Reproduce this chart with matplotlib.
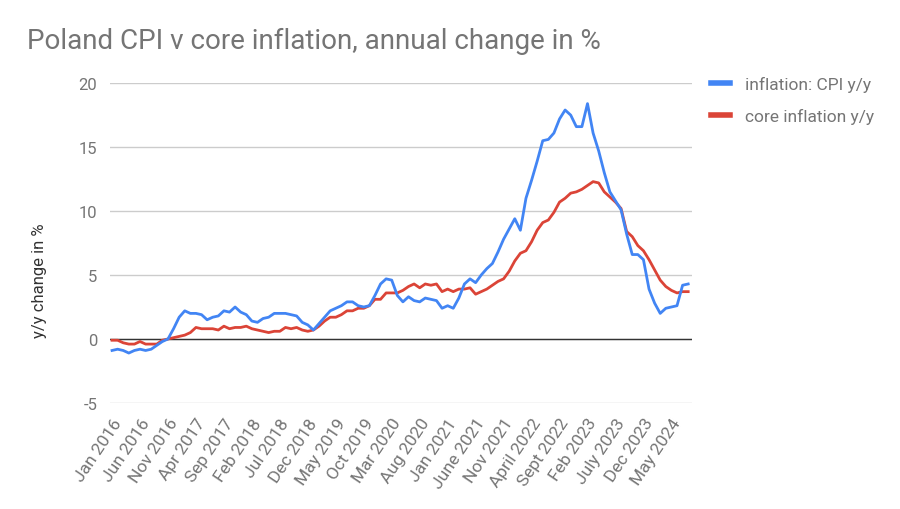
import matplotlib
matplotlib.use("Agg")
import matplotlib.pyplot as plt

plt.rcParams["font.family"] = ["Roboto", "DejaVu Sans"]

# monthly, Jan 2016 .. Aug 2024
cpi = [
    -0.9, -0.8, -0.9, -1.1, -0.9, -0.8, -0.9, -0.8, -0.5, -0.2, 0.0, 0.8,
    1.7, 2.2, 2.0, 2.0, 1.9, 1.5, 1.7, 1.8, 2.2, 2.1, 2.5, 2.1,
    1.9, 1.4, 1.3, 1.6, 1.7, 2.0, 2.0, 2.0, 1.9, 1.8, 1.3, 1.1,
    0.7, 1.2, 1.7, 2.2, 2.4, 2.6, 2.9, 2.9, 2.6, 2.5, 2.6, 3.4,
    4.3, 4.7, 4.6, 3.4, 2.9, 3.3, 3.0, 2.9, 3.2, 3.1, 3.0, 2.4,
    2.6, 2.4, 3.2, 4.3, 4.7, 4.4, 5.0, 5.5, 5.9, 6.8, 7.8, 8.6,
    9.4, 8.5, 11.0, 12.4, 13.9, 15.5, 15.6, 16.1, 17.2, 17.9, 17.5, 16.6,
    16.6, 18.4, 16.1, 14.7, 13.0, 11.5, 10.8, 10.1, 8.2, 6.6, 6.6, 6.2,
    3.9, 2.8, 2.0, 2.4, 2.5, 2.6, 4.2, 4.3,
]
core = [
    -0.1, -0.1, -0.3, -0.4, -0.4, -0.2, -0.4, -0.4, -0.4, -0.1, 0.0, 0.1,
    0.2, 0.3, 0.5, 0.9, 0.8, 0.8, 0.8, 0.7, 1.0, 0.8, 0.9, 0.9,
    1.0, 0.8, 0.7, 0.6, 0.5, 0.6, 0.6, 0.9, 0.8, 0.9, 0.7, 0.6,
    0.7, 1.0, 1.4, 1.7, 1.7, 1.9, 2.2, 2.2, 2.4, 2.4, 2.6, 3.1,
    3.1, 3.6, 3.6, 3.6, 3.8, 4.1, 4.3, 4.0, 4.3, 4.2, 4.3, 3.7,
    3.9, 3.7, 3.9, 3.9, 4.0, 3.5, 3.7, 3.9, 4.2, 4.5, 4.7, 5.3,
    6.1, 6.7, 6.9, 7.6, 8.5, 9.1, 9.3, 9.9, 10.7, 11.0, 11.4, 11.5,
    11.7, 12.0, 12.3, 12.2, 11.5, 11.1, 10.7, 10.2, 8.4, 8.0, 7.3, 6.9,
    6.2, 5.4, 4.6, 4.1, 3.8, 3.6, 3.7, 3.7,
]
tick_labels = [
    "Jan 2016", "Jun 2016", "Nov 2016", "Apr 2017", "Sep 2017", "Feb 2018",
    "Jul 2018", "Dec 2018", "May 2019", "Oct 2019", "Mar 2020", "Aug 2020",
    "Jan 2021", "June 2021", "Nov 2021", "April 2022", "Sept 2022",
    "Feb 2023", "July 2023", "Dec 2023", "May 2024",
]
y_ticks = [-5, 0, 5, 10, 15, 20]

grey = "#757575"
months = list(range(len(cpi)))

fig = plt.figure(figsize=(9, 5.1), dpi=100)
ax = fig.add_axes([0.122, 0.208, 0.647, 0.627])

for y in y_ticks:
    ax.axhline(y, color="#cccccc", lw=1, zorder=0)
ax.axhline(0, color="#333333", lw=1, zorder=1)

ax.plot(months, cpi, color="#4285F4", lw=2, label="inflation: CPI y/y", zorder=3)
ax.plot(months, core, color="#DB4437", lw=2, label="core inflation y/y", zorder=2)

ax.set_xlim(-0.4, 103.7)
ax.set_ylim(-5, 20)
ax.set_yticks(y_ticks)
ax.set_yticklabels([str(v) for v in y_ticks], color=grey, fontsize=12)
ax.set_xticks(months[::5])
ax.set_xticklabels(tick_labels, rotation=56, ha="right", va="top",
                   rotation_mode="anchor", color=grey, fontsize=12.5)
ax.tick_params(length=0, pad=9)
ax.tick_params(axis="x", pad=9)
for s in ax.spines.values():
    s.set_visible(False)

ax.set_ylabel("y/y change in %", color="#333333", fontsize=12)
ax.yaxis.set_label_coords(-0.108, 0.384)

fig.text(0.03, 0.918, "Poland CPI v core inflation, annual change in %",
         color=grey, fontsize=20, va="center")

leg = ax.legend(loc="upper left", bbox_to_anchor=(1.005, 1.072), frameon=False,
                fontsize=12.5, handlelength=1.1, handletextpad=0.9,
                labelspacing=0.95, labelcolor=grey)
for h in leg.get_lines():
    h.set_linewidth(4)

fig.savefig("out.png", dpi=100)
